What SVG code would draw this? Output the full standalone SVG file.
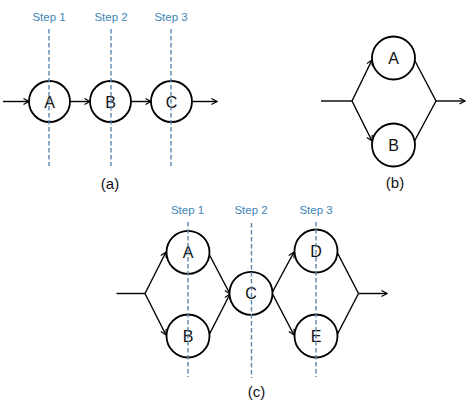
<svg xmlns="http://www.w3.org/2000/svg" width="474" height="405" viewBox="0 0 474 405">
<style>
.node circle{fill:#fff;stroke:#000;stroke-width:1.8}
.node text{font-family:"Liberation Sans",Arial,sans-serif;font-size:16px;fill:#111;text-anchor:middle}
.conn{fill:none;stroke:#000;stroke-width:1.4}
.arr{marker-end:url(#ah)}
.step{stroke:#5a86b0;stroke-width:1.4;stroke-dasharray:4.5 2.5;fill:none}
.steplbl{font-family:"Liberation Sans",Arial,sans-serif;font-size:11.5px;fill:#3c84b4;text-anchor:middle}
.cap{font-family:"Liberation Sans",Arial,sans-serif;font-size:15px;fill:#111;text-anchor:middle}
</style>
<defs>
<marker id="ah" markerUnits="userSpaceOnUse" markerWidth="8" markerHeight="8" refX="6" refY="3.5" orient="auto">
<path d="M0.5,0.5 L6,3.5 L0.5,6.5" fill="none" stroke="#000" stroke-width="1.2"/>
</marker>
</defs>
<rect width="474" height="405" fill="#fff"/>

<g id="connectors">
<!-- (a) -->
<line class="conn arr" x1="3" y1="101.5" x2="29" y2="101.5"/>
<line class="conn arr" x1="70" y1="101.5" x2="90" y2="101.5"/>
<line class="conn arr" x1="131" y1="101.5" x2="151" y2="101.5"/>
<line class="conn arr" x1="192" y1="101.5" x2="217" y2="101.5"/>
<!-- (b) -->
<line class="conn" x1="321" y1="101" x2="352" y2="101"/>
<line class="conn arr" x1="352" y1="101" x2="372" y2="60"/>
<line class="conn arr" x1="352" y1="101" x2="372" y2="141"/>
<line class="conn" x1="414.5" y1="60" x2="436" y2="101"/>
<line class="conn" x1="414.5" y1="141" x2="436" y2="101"/>
<line class="conn arr" x1="436" y1="101" x2="465" y2="101"/>
<!-- (c) -->
<line class="conn" x1="116.5" y1="293.5" x2="145" y2="293.5"/>
<line class="conn arr" x1="145" y1="293.5" x2="166" y2="252"/>
<line class="conn arr" x1="145" y1="293.5" x2="166" y2="335"/>
<line class="conn arr" x1="209" y1="254" x2="230" y2="294"/>
<line class="conn arr" x1="209" y1="335" x2="230" y2="294"/>
<line class="conn arr" x1="272.5" y1="292" x2="294" y2="252"/>
<line class="conn arr" x1="272.5" y1="294" x2="294" y2="335"/>
<line class="conn" x1="337" y1="252" x2="358.5" y2="293.5"/>
<line class="conn" x1="337" y1="335" x2="358.5" y2="293.5"/>
<line class="conn arr" x1="358.5" y1="293.5" x2="387" y2="293.5"/>
</g>

<g id="node-a-A" class="node"><circle cx="49.5" cy="101.5" r="20.5"/><text x="49.5" y="107.5">A</text></g>
<g id="node-a-B" class="node"><circle cx="110.5" cy="101.5" r="20.5"/><text x="110.5" y="107.5">B</text></g>
<g id="node-a-C" class="node"><circle cx="171.5" cy="101.5" r="20.5"/><text x="171.5" y="107.5">C</text></g>

<g id="node-b-A" class="node"><circle cx="393.5" cy="58" r="21.5"/><text x="393.5" y="64">A</text></g>
<g id="node-b-B" class="node"><circle cx="393.5" cy="145" r="21.5"/><text x="393.5" y="151">B</text></g>

<g id="node-c-A" class="node"><circle cx="188" cy="252.3" r="21.5"/><text x="188" y="258.3">A</text></g>
<g id="node-c-B" class="node"><circle cx="188" cy="336" r="21.5"/><text x="188" y="342">B</text></g>
<g id="node-c-C" class="node"><circle cx="251" cy="293.3" r="21.5"/><text x="251" y="299.3">C</text></g>
<g id="node-c-D" class="node"><circle cx="316" cy="251" r="21.5"/><text x="316" y="257">D</text></g>
<g id="node-c-E" class="node"><circle cx="316" cy="336" r="21.5"/><text x="316" y="342">E</text></g>

<g id="steps">
<line class="step" x1="49" y1="29" x2="49" y2="166"/>
<line class="step" x1="111" y1="29" x2="111" y2="166"/>
<line class="step" x1="171" y1="29" x2="171" y2="166"/>
<text class="steplbl" x="49" y="21">Step 1</text>
<text class="steplbl" x="111" y="21">Step 2</text>
<text class="steplbl" x="171" y="21">Step 3</text>
<line class="step" x1="188" y1="222" x2="188" y2="377"/>
<line class="step" x1="251.5" y1="223" x2="251.5" y2="378"/>
<line class="step" x1="316" y1="222" x2="316" y2="377"/>
<text class="steplbl" x="187.5" y="214">Step 1</text>
<text class="steplbl" x="251" y="214">Step 2</text>
<text class="steplbl" x="316" y="214">Step 3</text>
</g>

<text class="cap" x="110" y="189">(a)</text>
<text class="cap" x="395" y="188">(b)</text>
<text class="cap" x="256.5" y="397">(c)</text>
</svg>
